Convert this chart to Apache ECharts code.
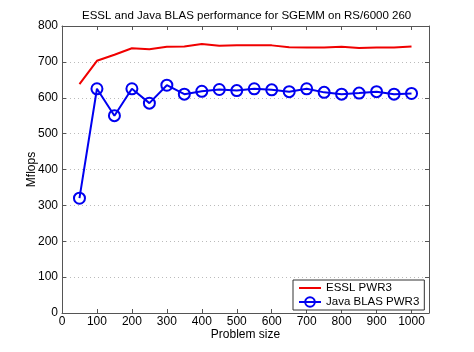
<!DOCTYPE html>
<html><head><meta charset="utf-8">
<script src="https://cdn.jsdelivr.net/npm/echarts@6/dist/echarts.min.js"></script>
<style>html,body{margin:0;padding:0;background:#fff}#c{width:474px;height:352px}</style>
</head><body><div id="c"></div>
<script>
const sizes = [50,100,150,200,250,300,350,400,450,500,550,600,650,700,750,800,850,900,950,1000];
const esslPWR3 = [638,703,720,738,735,742,743,750,745,746,746,746,741,740,740,742,739,740,740,743];
const javaPWR3 = [320,625,550,625,585,635,610,618,623,620,625,622,617,625,615,610,613,617,610,612];
const xTicks = [0,100,200,300,400,500,600,700,800,900,1000];
const yTicks = [0,100,200,300,400,500,600,700,800];
const titleText = 'ESSL and Java BLAS performance for SGEMM on RS/6000 260';
const names = ['ESSL PWR3','Java BLAS PWR3'];

const font = 'Liberation Sans, Arial, sans-serif';
const red = '#f00000', blue = '#0000f0';
const chart = echarts.init(document.getElementById('c'), null, {renderer:'canvas'});
const axisLine = {show:true, onZero:false, lineStyle:{color:'#555', width:1}};
const tick = {show:true, inside:true, length:4, lineStyle:{color:'#555'}};
chart.setOption({
  animation:false,
  backgroundColor:'#fff',
  title:{text:titleText, left:77, top:5, textStyle:{fontFamily:font, fontSize:11.5, fontWeight:'normal', color:'#000'}},
  grid:{left:62, right:45, top:26, bottom:39},
  xAxis:[
    {type:'value', min:0, max:1050, interval:100, name:'Problem size', nameLocation:'middle', nameGap:16,
     nameMoveOverlap:false,
     nameTextStyle:{fontFamily:font, fontSize:12, color:'#000'},
     axisLine, axisTick:tick, splitLine:{show:false},
     axisLabel:{fontFamily:font, fontSize:12, color:'#000', margin:3, showMaxLabel:false,
       formatter:v=>xTicks.includes(v)?String(v):''}},
    {type:'value', position:'top', min:0, max:1050, interval:100, axisLine, axisTick:tick,
     axisLabel:{show:false}, splitLine:{show:false}}
  ],
  yAxis:[
    {type:'value', min:0, max:800, interval:100, name:'Mflops', nameLocation:'middle', nameGap:24,
     nameMoveOverlap:false,
     nameTextStyle:{fontFamily:font, fontSize:12, color:'#000'},
     axisLine, axisTick:tick,
     splitLine:{show:true, lineStyle:{color:'#bbb', type:[1,3], width:1}},
     axisLabel:{fontFamily:font, fontSize:12, color:'#000', margin:4,
       formatter:v=>yTicks.includes(v)?String(v):''}},
    {type:'value', position:'right', min:0, max:800, interval:100, axisLine, axisTick:tick,
     axisLabel:{show:false}, splitLine:{show:false}}
  ],
  legend:{orient:'vertical', left:293, top:280, backgroundColor:'#fff',
    borderColor:'#333', borderWidth:1, padding:[2,5,2,5], itemGap:2, itemWidth:22, itemHeight:12,
    textStyle:{fontFamily:font, fontSize:11.5, color:'#000'},
    data:[
      {name:names[0], itemStyle:{color:'rgba(0,0,0,0)', borderWidth:0, opacity:0}},
      {name:names[1], itemStyle:{color:'rgba(255,255,255,0)', borderColor:blue, borderWidth:2}}
    ]},
  series:[
    {name:names[0], type:'line', data:sizes.map((x,i)=>[x,esslPWR3[i]]), showSymbol:false, symbol:'none',
     lineStyle:{color:red, width:2}, itemStyle:{color:red}},
    {name:names[1], type:'line', data:sizes.map((x,i)=>[x,javaPWR3[i]]), symbol:'circle', symbolSize:11,
     lineStyle:{color:blue, width:2},
     itemStyle:{color:'rgba(255,255,255,0)', borderColor:blue, borderWidth:2}}
  ]
});
</script></body></html>
